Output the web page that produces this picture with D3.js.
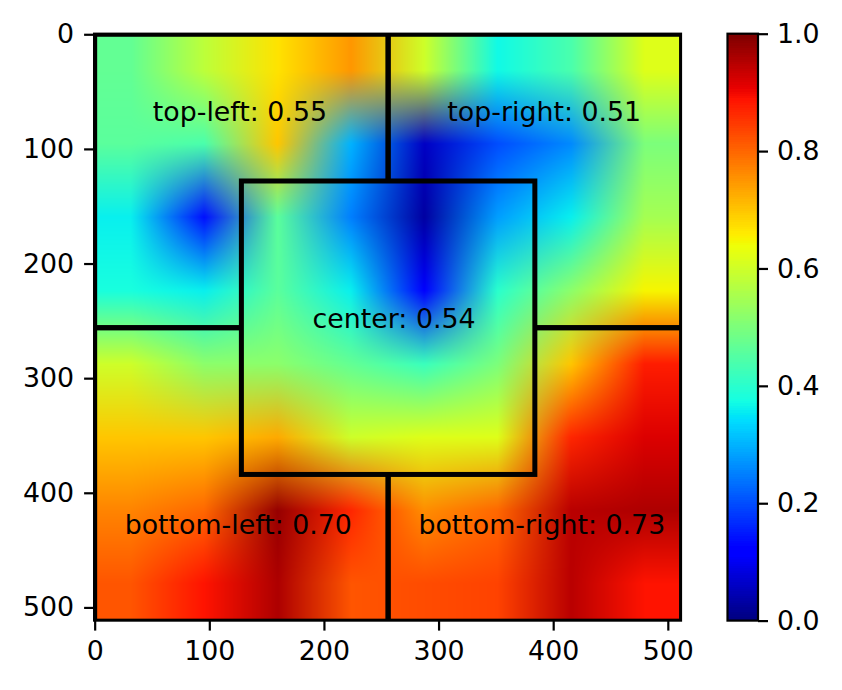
<!DOCTYPE html>
<html lang="en">
<head>
  <meta charset="UTF-8" />
  <title>Region heatmap</title>
  <script src="https://d3js.org/d3.v7.min.js"></script>
  <style>
    body { margin: 0; background: #fff; }
    svg { display: block; font-family: "DejaVu Sans", sans-serif; }
    .axis line { stroke: #000; stroke-width: 2.2px; }
    .axis text { font-size: 26.8px; fill: #000; font-family: "DejaVu Sans", sans-serif; }
    .label { font-size: 26.8px; fill: #000; text-anchor: middle; }
  </style>
</head>
<body>
<svg id="chart" width="842" height="690"></svg>

<script>
  // 8x8 values, one row per cell of 64 px
  const heat = [
    [0.47, 0.58, 0.67, 0.75, 0.60, 0.37, 0.44, 0.62],
    [0.46, 0.44, 0.70, 0.30, 0.06, 0.20, 0.26, 0.50],
    [0.36, 0.14, 0.46, 0.25, 0.03, 0.28, 0.36, 0.55],
    [0.38, 0.36, 0.46, 0.36, 0.12, 0.40, 0.52, 0.65],
    [0.60, 0.52, 0.52, 0.47, 0.42, 0.50, 0.70, 0.88],
    [0.70, 0.70, 0.73, 0.60, 0.62, 0.62, 0.87, 0.92],
    [0.77, 0.80, 0.98, 0.87, 0.76, 0.80, 0.95, 0.96],
    [0.82, 0.89, 0.96, 0.82, 0.83, 0.84, 0.95, 0.89]
  ];
  const axisTicks = [0, 100, 200, 300, 400, 500];
  const barTicks = [0, 0.2, 0.4, 0.6, 0.8, 1];

  const regionNames = ["top-left", "top-right", "bottom-left", "bottom-right", "center"];
  const regionScores = [0.55, 0.51, 0.70, 0.73, 0.54];
  const regionBoxes = [
    [0, 0, 256, 256],
    [256, 0, 512, 256],
    [0, 256, 256, 512],
    [256, 256, 512, 512]
  ];
  const centerBox = [128, 128, 384, 384];
  const labelSpots = [
    [126.7, 76],
    [392.2, 76],
    [125.3, 436],
    [390.1, 436],
    [261.2, 256.3]
  ];

  const svg = d3.select("#chart");
  const plotLeft = 94.1, plotTop = 33.7, side = 586.9;
  const extent = 512, cell = 64;

  // pixel centers sit on whole numbers, so the image spans -0.5 to 511.5
  const x = d3.scaleLinear().domain([-0.5, extent - 0.5]).range([plotLeft, plotLeft + side]);
  const y = d3.scaleLinear().domain([-0.5, extent - 0.5]).range([plotTop, plotTop + side]);

  // jet colormap
  const red = d3.scaleLinear().domain([0, 0.35, 0.66, 0.89, 1]).range([0, 0, 1, 1, 0.5]).clamp(true);
  const green = d3.scaleLinear().domain([0, 0.125, 0.375, 0.64, 0.91, 1]).range([0, 0, 1, 1, 0, 0]).clamp(true);
  const blue = d3.scaleLinear().domain([0, 0.11, 0.34, 0.65, 1]).range([0.5, 1, 1, 0, 0]).clamp(true);
  const jet = v => [red(v) * 255, green(v) * 255, blue(v) * 255];

  // the cells are coloured first and the colours get blended afterwards
  const cellColors = heat.map(row => row.map(jet));
  const clampIndex = i => Math.max(0, Math.min(heat.length - 1, i));

  function sample(dx, dy) {
    const gx = (dx + 0.5) / cell - 0.5, gy = (dy + 0.5) / cell - 0.5;
    const ix = Math.floor(gx), iy = Math.floor(gy);
    const fx = gx - ix, fy = gy - iy;
    const x0 = clampIndex(ix), x1 = clampIndex(ix + 1);
    const y0 = clampIndex(iy), y1 = clampIndex(iy + 1);
    return [0, 1, 2].map(n =>
      (cellColors[y0][x0][n] * (1 - fx) + cellColors[y0][x1][n] * fx) * (1 - fy) +
      (cellColors[y1][x0][n] * (1 - fx) + cellColors[y1][x1][n] * fx) * fy);
  }

  // heatmap goes to an offscreen canvas, then into the svg as an image
  const w = Math.round(side), h = Math.round(side);
  const canvas = document.createElement("canvas");
  canvas.width = w;
  canvas.height = h;
  const ctx = canvas.getContext("2d");
  const img = ctx.createImageData(w, h);
  for (let j = 0; j < h; j++) {
    for (let i = 0; i < w; i++) {
      const c = sample(x.invert(plotLeft + (i + 0.5) * side / w), y.invert(plotTop + (j + 0.5) * side / h));
      const k = (j * w + i) * 4;
      img.data[k] = c[0];
      img.data[k + 1] = c[1];
      img.data[k + 2] = c[2];
      img.data[k + 3] = 255;
    }
  }
  ctx.putImageData(img, 0, 0);
  const heatUrl = canvas.toDataURL();

  svg.append("clipPath").attr("id", "center-clip")
    .append("rect")
    .attr("x", x(centerBox[0]))
    .attr("y", y(centerBox[1]))
    .attr("width", x(centerBox[2]) - x(centerBox[0]))
    .attr("height", y(centerBox[3]) - y(centerBox[1]));

  // frames are clipped to the axes, like the image
  svg.append("clipPath").attr("id", "plot-clip")
    .append("rect")
    .attr("x", plotLeft).attr("y", plotTop)
    .attr("width", side).attr("height", side);

  svg.append("image")
    .attr("x", plotLeft).attr("y", plotTop)
    .attr("width", side).attr("height", side)
    .attr("href", heatUrl);

  function drawBoxes(boxes) {
    svg.append("g")
      .attr("clip-path", "url(#plot-clip)")
      .selectAll("rect")
      .data(boxes)
      .enter().append("rect")
      .attr("x", d => x(d[0]))
      .attr("y", d => y(d[1]))
      .attr("width", d => x(d[2]) - x(d[0]))
      .attr("height", d => y(d[3]) - y(d[1]))
      .style("fill", "none")
      .style("stroke", "#000")
      .style("stroke-width", 5);
  }

  drawBoxes(regionBoxes);

  // the center patch sits above the quadrant frames
  svg.append("image")
    .attr("x", plotLeft).attr("y", plotTop)
    .attr("width", side).attr("height", side)
    .attr("href", heatUrl)
    .attr("clip-path", "url(#center-clip)");

  drawBoxes([centerBox]);

  svg.append("g").selectAll("text")
    .data(regionNames)
    .enter().append("text")
    .attr("class", "label")
    .attr("x", (d, i) => x(labelSpots[i][0]))
    .attr("y", (d, i) => y(labelSpots[i][1]))
    .text((d, i) => d + ": " + regionScores[i].toFixed(2));

  // spines
  svg.append("rect")
    .attr("x", plotLeft).attr("y", plotTop)
    .attr("width", side).attr("height", side)
    .style("fill", "none")
    .style("stroke", "#000")
    .style("stroke-width", 2.2);

  svg.append("g")
    .attr("class", "axis")
    .attr("transform", `translate(0,${plotTop + side})`)
    .call(d3.axisBottom(x).tickValues(axisTicks).tickSize(10).tickPadding(10).tickSizeOuter(0))
    .call(g => g.select(".domain").remove());

  svg.append("g")
    .attr("class", "axis")
    .attr("transform", `translate(${plotLeft},0)`)
    .call(d3.axisLeft(y).tickValues(axisTicks).tickSize(10).tickPadding(10).tickSizeOuter(0))
    .call(g => g.select(".domain").remove());

  // colorbar
  const barLeft = 727.5, barWidth = 30.5;
  const barScale = d3.scaleLinear().domain([0, 1]).range([plotTop + side, plotTop]);
  const steps = d3.range(256).map(i => i / 255);

  svg.append("g").selectAll("rect")
    .data(steps)
    .enter().append("rect")
    .attr("x", barLeft)
    .attr("y", d => plotTop + side - (d * 255 + 1) * side / 256)
    .attr("width", barWidth)
    .attr("height", side / 256 + 0.6)
    .attr("shape-rendering", "crispEdges")
    .style("fill", d => d3.rgb(...jet(d)));

  svg.append("rect")
    .attr("x", barLeft).attr("y", plotTop)
    .attr("width", barWidth).attr("height", side)
    .style("fill", "none")
    .style("stroke", "#000")
    .style("stroke-width", 2.2);

  svg.append("g")
    .attr("class", "axis")
    .attr("transform", `translate(${barLeft + barWidth},0)`)
    .call(d3.axisRight(barScale).tickValues(barTicks).tickFormat(d3.format(".1f")).tickSize(10).tickPadding(9).tickSizeOuter(0))
    .call(g => g.select(".domain").remove());
</script>
</body>
</html>
